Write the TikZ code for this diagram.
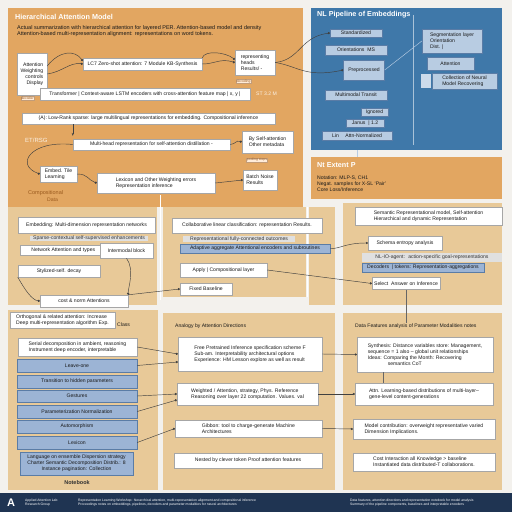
\documentclass[tikz,border=0pt]{standalone}
\usepackage{fontspec}
\setmainfont{Liberation Sans}
\usetikzlibrary{arrows.meta,shadows}
\definecolor{pageback}{HTML}{F3F1ED}
\definecolor{orangepanel}{HTML}{E2A661}
\definecolor{beigepanel}{HTML}{E8C998}
\definecolor{bluepanel}{HTML}{3F78A9}
\definecolor{paleblue}{HTML}{B8CCE2}
\definecolor{barblue}{HTML}{9CB4D5}
\definecolor{baredge}{HTML}{5A7CA6}
\definecolor{navyband}{HTML}{1F3452}
\definecolor{rustbrown}{HTML}{9A5A1E}
\newcommand{\smallfnt}{\fontsize{5.1}{6}\selectfont}
\newcommand{\headfnt}{\fontsize{7.2}{8}\selectfont\bfseries}
\newcommand{\tagfnt}{\fontsize{3.4}{4}\selectfont}
\begin{document}
\begin{tikzpicture}[x=1pt,y=1pt,
  wbox/.style={draw=black!35, fill=white, drop shadow={shadow xshift=0.8pt,shadow yshift=-0.8pt,opacity=0.3}, align=left, font=\smallfnt, inner sep=0pt, text=black!90},
  pbox/.style={draw=baredge, fill=paleblue, drop shadow={shadow xshift=0.8pt,shadow yshift=-0.8pt,opacity=0.4}, align=left, font=\smallfnt, inner sep=0pt, text=black!90},
  bar/.style={draw=baredge, fill=barblue, align=center, font=\smallfnt, inner sep=0pt, text=black!90},
  band/.style={fill=black!12, font=\smallfnt, inner sep=0pt, text=black!80},
  tag/.style={draw=rustbrown!60, fill=orange!15, font=\tagfnt, inner sep=0.6pt, text=rustbrown},
  head/.style={font=\headfnt, text=white, anchor=west, inner sep=0pt},
  note/.style={font=\smallfnt, anchor=west, inner sep=0pt, align=left, text=black!90},
  conn/.style={draw=black!75, line width=0.45pt, -{Circle[length=2.2pt]}},
  ]
\useasboundingbox (0,0) rectangle (512,-512);
\fill [pageback] (0,0) rectangle (512,-512);
\fill [orangepanel] (8,-8) rectangle (303,-207);
\fill [bluepanel] (311,-8) rectangle (502,-150);
\fill [orangepanel] (311,-157) rectangle (502,-199);
\fill [beigepanel] (8,-207) rectangle (157,-305);
\fill [beigepanel] (163,-207) rectangle (306,-297);
\fill [beigepanel] (309,-207) rectangle (335,-305);
\fill [beigepanel] (343,-203) rectangle (502,-305);
\fill [beigepanel] (8,-310) rectangle (158,-490);
\fill [beigepanel] (163,-313) rectangle (335,-490);
\fill [beigepanel] (343,-313) rectangle (502,-490);
\fill [navyband] (0,-493) rectangle (512,-512);
\draw [white!55!bluepanel] (413,-15) -- (413,-145);
\draw [white, line width=1pt] (160,-195) -- (160,-300);
\draw [white, line width=1pt] (307,-207) -- (307,-297);

\node (title1) at (15,-17) [head] {Hierarchical Attention Model};
\node (intro1) at (17,-31) [note, font=\fontsize{5.5}{6.2}\selectfont] {Actual summarization with hierarchical attention for layered PER. Attention-based model and density\\Attention-based multi-representation alignment: representations on word tokens.};
\node (ta) at (32,-74) [wbox, minimum width=30, minimum height=42, align=right] {Attention\\Weighting\\controls\\Display};
\node (tb) at (142.5,-64) [wbox, minimum width=119, minimum height=12] {LC7 Zero-shot attention: 7 Module KB-Synthesis};
\node (tc) at (255,-62.5) [wbox, minimum width=40, minimum height=25] {representing\\heads\\Results/ -};
\node (tctag) at (243.5,-81.5) [tag] {decoding};
\node (td) at (145,-94) [wbox, minimum width=210, minimum height=12] {Transformer | Context-aware LSTM encoders with cross-attention feature map | x, y |};
\node (tdnote) at (256,-94) [note, text=white!85!orangepanel] {ST 3.2 M};
\node (tdtag) at (27.5,-98.5) [tag] {decoder};
\node (te) at (148.5,-118.5) [wbox, minimum width=253, minimum height=11] {(A): Low-Rank sparse: large multilingual representations for embedding. Compositional inference};
\node (tenote) at (25,-140) [note, font=\fontsize{6}{7}\selectfont, text=white!85!orangepanel] {ET/RSG};
\node (tf) at (151.5,-144.5) [wbox, minimum width=157, minimum height=11] {Multi-head representation for self-attention distillation -};
\node (tg) at (267.5,-142) [wbox, minimum width=51, minimum height=22] {By Self-attention\\Other metadata};
\node (tgtag) at (257,-160) [tag] {pooling steps};
\node (th) at (58.5,-174) [wbox, minimum width=37, minimum height=16] {Embed. Tile\\Learning};
\node (ti) at (156,-183) [wbox, minimum width=118, minimum height=20] {Lexicon and Other Weighting errors\\Representation inference};
\node (tj) at (260,-180) [wbox, minimum width=34, minimum height=20] {Batch Noise\\Results};
\node (tnote) at (28,-193) [note, text=rustbrown, font=\fontsize{5.5}{6.5}\selectfont] {Compositional};
\node (tnote2) at (47,-199.5) [note, text=rustbrown] {Data};

\draw [conn] (ta.east) .. controls (62,-72) and (70,-62) .. (tb.west);
\draw [conn] ([yshift=8pt]ta.east) .. controls (60,-50) and (75,-50) .. ([yshift=3pt]tb.west);
\draw [conn] (tb.east) .. controls (215,-64) and (220,-58) .. (tc.west);
\draw [conn] (tb.north east) .. controls (205,-50) and (225,-52) .. ([yshift=3pt]tc.west);
\draw [draw=black!75, line width=0.45pt, -{Stealth[length=3pt]}, shorten >=3pt] (te.south -| tf.north west) -- (tf.north west);
\draw [conn] (tf.west) .. controls (30,-140) and (15,-165) .. (th.west);
\draw [conn] (th.east) .. controls (88,-174) and (88,-180) .. (ti.west);
\draw [conn] (ti.east) -- (tj.west);
\draw [conn] (tf.east) .. controls (236,-144) and (236,-140) .. (tg.west);

\node (title2) at (317,-15) [head] {NL Pipeline of Embeddings};
\node (k1) at (356,-33) [pbox, minimum width=52, minimum height=8] {Standardized};
\node (k2) at (356,-50) [pbox, minimum width=62, minimum height=10] {Orientations \ MS};
\node (k3) at (364,-70) [pbox, minimum width=41, minimum height=20] {Preprocessed};
\node (k4) at (356,-95) [pbox, minimum width=62, minimum height=10] {Multimodal Transit};
\node (k5) at (374.5,-112.5) [pbox, minimum width=27, minimum height=8] {Ignored};
\node (k6) at (365,-123.5) [pbox, minimum width=38, minimum height=8] {Janus \ | 1.2};
\node (k7) at (357,-135.5) [pbox, minimum width=70, minimum height=9] {Lin \quad Attn-Normalized};
\node (l1) at (452,-41) [pbox, minimum width=60, minimum height=24] {Segmentation layer\\Orientation\\Dist. |};
\node (l2) at (450.5,-63.5) [pbox, minimum width=47, minimum height=13] {Attention};
\node (l0) at (426,-81) [fill=paleblue!70, minimum width=10, minimum height=14, inner sep=0pt] {};
\node (l3) at (464.5,-81) [pbox, minimum width=65, minimum height=16] {Collection of Neural\\Model Recovering};
\draw [conn] (tc.east) .. controls (300,-60) and (300,-37) .. (k1.west);
\draw [conn] (tc.east) .. controls (298,-66) and (305,-78) .. (k3.west);
\draw [draw=paleblue, line width=0.45pt] (k3.east) -- (l1.west);
\draw [draw=paleblue] (357,-150) -- (357,-157);

\node (title3) at (317,-165) [head] {Nt Extent P};
\node (ext) at (317,-184) [note] {Notation: MLP-S, CH1\\Negat. samples for X-SL `Pair'\\Core Loss/Inference};

\node (m1) at (86.5,-225) [wbox, minimum width=137, minimum height=16] {Embedding: Multi-dimension representation networks};
\node (m1b) at (89,-238.5) [band, minimum width=118, minimum height=5] {Sparse-contextual self-supervised enhancements};
\node (m2) at (86.5,-250) [wbox, minimum width=133, minimum height=10] {Network Attention and types \hspace{45pt}};
\node (m2b) at (126.5,-250.5) [wbox, minimum width=53, minimum height=15] {Intermodal block};
\node (m3) at (59,-271) [wbox, minimum width=82, minimum height=12] {Stylized-self. decay};
\node (m4) at (84,-301) [wbox, minimum width=88, minimum height=12] {cost \& norm Attentions};
\node (m5) at (62.5,-320) [wbox, minimum width=105, minimum height=16] {Orthogonal \& related attention: Increase\\Deep multi-representation algorithm Exp.};
\node (m5note) at (117,-325) [note] {Class};
\draw [conn] (m3.south west) .. controls (25,-290) and (32,-300) .. (m4.west);
\draw [conn] (m2b.south) .. controls (135,-270) and (128,-288) .. (m4.north east);

\node (n1) at (247,-225.5) [wbox, minimum width=150, minimum height=15] {Collaborative linear classification: representation Results.};
\node (n2) at (239,-239) [band, minimum width=112, minimum height=6] {Representational fully-connected outcomes};
\node (n3) at (255,-248.5) [bar, minimum width=150, minimum height=9] {Adaptive aggregate Attentional encoders and subroutines};
\node (n4) at (223.5,-270) [wbox, minimum width=87, minimum height=14] {Apply | Compositional layer};
\node (n5) at (206,-289) [wbox, minimum width=52, minimum height=12] {Fixed Baseline};
\draw [conn] (m4.north east) -- (n5.west);

\node (r1) at (428.5,-216) [wbox, minimum width=147, minimum height=18] {Semantic Representational model, Self-attention\\Hierarchical and dynamic Representation};
\node (r2) at (405,-243) [wbox, minimum width=74, minimum height=14] {Schema entropy analysis};
\node (r3) at (432,-257.5) [band, minimum width=140, minimum height=9] {NL-IO-agent: \ action-specific goal-representations};
\node (r4) at (423,-267.5) [bar, minimum width=122, minimum height=9] {Decoders \ | tokens: Representation-aggregations};
\node (r5) at (406,-283.5) [wbox, minimum width=68, minimum height=12] {Select \ Answer on Inference};
\draw [conn] (n3.east) .. controls (340,-249) and (345,-243) .. (r2.west);
\draw [conn] (n4.east) -- (r5.west);

\node (p1) at (77.5,-347) [wbox, minimum width=119, minimum height=18] {Serial decomposition in ambient, reasoning\\Instrument deep encoder, interpretable};
\node (bar1) at (77,-365.5) [bar, minimum width=120, minimum height=13] {Leave-one};
\node (bar2) at (77,-381.5) [bar, minimum width=120, minimum height=13] {Transition to hidden parameters};
\node (bar3) at (77,-396) [bar, minimum width=120, minimum height=12] {Gestures};
\node (bar4) at (77,-411.5) [bar, minimum width=120, minimum height=13] {Parameterization Normalization};
\node (bar5) at (77,-426.5) [bar, minimum width=120, minimum height=13] {Automorphism};
\node (bar6) at (77,-442.5) [bar, minimum width=120, minimum height=13] {Lexicon};
\node (bar7) at (76.5,-463.5) [bar, minimum width=113, minimum height=23] {Language on ensemble Dispersion strategy\\Charter Semantic Decomposition Distrib.: 8\\Instance pagination: Collection};
\node (nbook) at (77,-483) [font=\fontsize{5.5}{6.5}\selectfont\bfseries, text=black!80, inner sep=0pt] {Notebook};

\node (qt) at (175,-326) [note] {Analogy by Attention Directions};
\node (q1) at (250,-354) [wbox, minimum width=144, minimum height=34] {Free Pretrained Inference specification scheme F\\Sub-am. Interpretability architectural options\\Experience: HM Lesson explore as well as result};
\node (q2) at (247.5,-394) [wbox, minimum width=141, minimum height=22] {Weighted / Attention, strategy, Phys. Reference\\Reasoning over layer 22 computation. Values. val};
\node (q3) at (248.5,-428.5) [wbox, minimum width=147, minimum height=17] {Gibbon: tool to charge-generate Machine\\Architectures};
\node (q4) at (248,-460.5) [wbox, minimum width=148, minimum height=15] {Nested by clever token Proof attention features};
\draw [conn] (p1.east) -- (q1.west);
\draw [conn] (bar1.east) -- ([yshift=-8pt]q1.west);
\draw [conn] (bar3.east) -- (q2.west);
\draw [conn] (bar4.east) -- ([yshift=-6pt]q2.west);
\draw [conn] (bar6.east) -- (q3.west);

\node (rt) at (355,-326) [note] {Data Features analysis of Parameter Modalities notes};
\node (s1) at (425,-354.5) [wbox, minimum width=136, minimum height=35] {Synthesis: Distance variables store: Management,\\sequence = 1 also -- global unit relationships\\Ideas: Comparing the Month: Recovering\\\hspace{20pt}semantics CoT};
\node (s2) at (424,-394) [wbox, minimum width=138, minimum height=22] {Attn. Learning-based distributions of multi-layer--\\gene-level content-generations};
\node (s3) at (424,-429) [wbox, minimum width=142, minimum height=20] {Model contribution: overweight representative varied\\Dimension Implications.};
\node (s4) at (424,-462) [wbox, minimum width=142, minimum height=18] {Cost Interaction all Knowledge > baseline\\Instantiated data distributed-T collaborations.};
\draw [conn] (q1.east) -- (s1.west);
\draw [conn] (q2.east) -- (s2.west);
\draw [conn] (q3.east) -- (s3.west);
\draw [draw=black!60, line width=0.45pt] ([xshift=-42pt]s1.south) -- ([xshift=-41pt]s2.north);
\draw [draw=black!60, line width=0.45pt] (r5.south) -- (r5.south |- rt.north);

\node (logo) at (11,-503) [font=\fontsize{11}{11}\selectfont\bfseries, text=white, inner sep=0pt] {A};
\node (logotext) at (25,-503) [note, font=\tagfnt, text=white!80] {Applied Attention Lab\\Research Group};
\node (foot1) at (78,-502.5) [note, font=\tagfnt, text=white!80] {Representation Learning Workshop: hierarchical attention, multi-representation alignment and compositional inference\\Proceedings notes on embeddings, pipelines, decoders and parameter modalities for neural architectures};
\node (foot2) at (350,-502.5) [note, font=\tagfnt, text=white!80] {Data features, attention directions and representation notebook for model analysis\\Summary of the pipeline components, baselines and interpretable encoders};
\end{tikzpicture}
\end{document}
